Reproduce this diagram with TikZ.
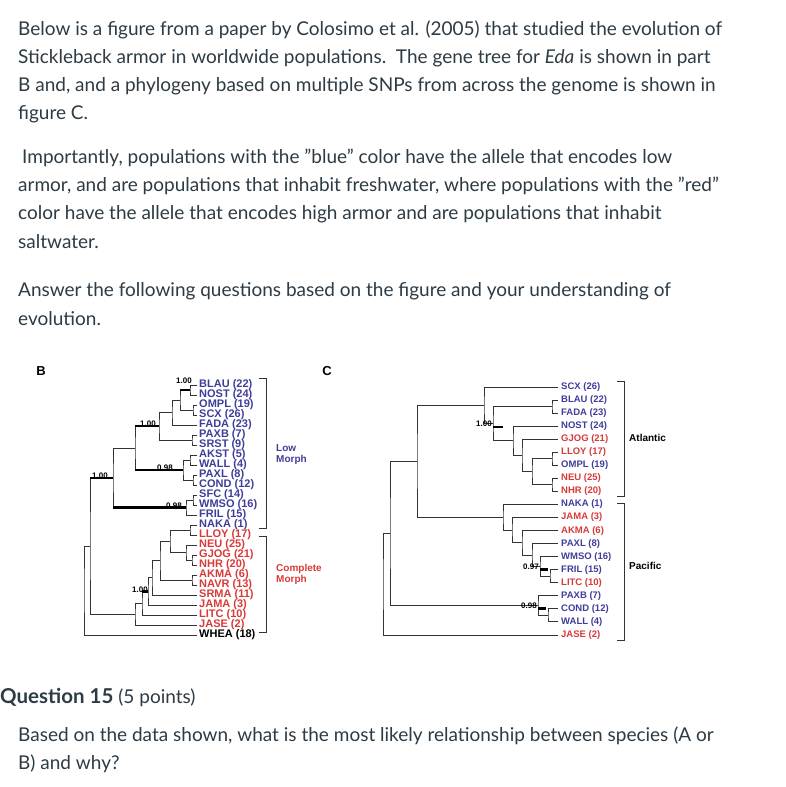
\documentclass[tikz,border=0pt]{standalone}
\usepackage{fontspec}
\setmainfont{Lato}
\newfontfamily\lsans{Liberation Sans}
\usetikzlibrary{calc}
\definecolor{txt}{HTML}{2D3B45}
\definecolor{bl}{HTML}{3E3E9A}
\definecolor{rd}{HTML}{D83A3A}
\newcommand{\jn}[4]{\path let \p1=(#3),\p2=(#4) in coordinate (#1) at ({#2pt},{0.5*\y1+0.5*\y2});
  \draw[tree] (#3) -| (#1) |- (#4);}
\begin{document}
\begin{tikzpicture}[x=1pt,y=-1pt,
  para/.style={anchor=west,inner sep=0pt,font=\fontsize{19}{22}\selectfont,text=txt},
  lf/.style={anchor=west,inner sep=0pt,font=\lsans\bfseries\fontsize{11}{11}\selectfont},
  lfc/.style={anchor=west,inner sep=0pt,font=\lsans\bfseries\fontsize{9.5}{10}\selectfont},
  sup/.style={inner sep=0pt,font=\lsans\bfseries\fontsize{8}{8}\selectfont},
  lab/.style={anchor=west,inner sep=0pt,align=left,font=\lsans\bfseries\fontsize{10}{11}\selectfont},
  tree/.style={line width=0.9pt,black!80},
  bold/.style={line width=2.2pt,black},
  brk/.style={line width=1pt,black!80}]
\useasboundingbox (0,0) rectangle (785,787);
\fill[white] (0,0) rectangle (785,787);
% paragraphs
\node[para] (t1) at (18,30) {Below is a figure from a paper by Colosimo et al. (2005) that studied the evolution of};
\node[para] (t2) at (18,58) {Stickleback armor in worldwide populations.\ \ The gene tree for \emph{Eda} is shown in part};
\node[para] (t3) at (18,86) {B and, and a phylogeny based on multiple SNPs from across the genome is shown in};
\node[para] (t4) at (18,114) {figure C.};
\node[para] (t5) at (22,158) {Importantly, populations with the "blue" color have the allele that encodes low};
\node[para] (t6) at (18,186) {armor, and are populations that inhabit freshwater, where populations with the "red"};
\node[para] (t7) at (18,214) {color have the allele that encodes high armor and are populations that inhabit};
\node[para] (t8) at (18,242) {saltwater.};
\node[para] (t9) at (18,291) {Answer the following questions based on the figure and your understanding of};
\node[para] (t10) at (18,319) {evolution.};
\node[para,font=\bfseries\fontsize{20.5}{24}\selectfont] (q) at (0,697) {Question 15 \normalfont\fontsize{19}{22}\selectfont(5 points)};
\node[para] (t11) at (18,736) {Based on the data shown, what is the most likely relationship between species (A or};
\node[para] (t12) at (18,764) {B) and why?};
\node[inner sep=0pt,font=\lsans\bfseries\fontsize{13}{14}\selectfont] (B) at (41,371) {B};
\node[inner sep=0pt,font=\lsans\bfseries\fontsize{13}{14}\selectfont] (C) at (327,371) {C};
% ---------- tree B leaves
\foreach \n/\c [count=\i] in {BLAU (22)/bl,NOST (24)/bl,OMPL (19)/bl,SCX (26)/bl,FADA (23)/bl,PAXB (7)/bl,SRST (9)/bl,AKST (5)/bl,WALL (4)/bl,PAXL (8)/bl,COND (12)/bl,SFC (14)/bl,WMSO (16)/bl,FRIL (15)/bl,NAKA (1)/bl,LLOY (17)/rd,NEU (25)/rd,GJOG (21)/rd,NHR (20)/rd,AKMA (6)/rd,NAVR (13)/rd,SRMA (11)/rd,JAMA (3)/rd,LITC (10)/rd,JASE (2)/rd,WHEA (18)/black}{
  \coordinate (b\i) at (197,{385+10*(\i-1)});
  \node[lf,text=\c] (bl\i) at (199,{385+10*(\i-1)}) {\n};
}
\jn{bn1}{190}{b1}{b2}
\jn{bn2}{193}{b3}{b4}
\jn{bn3}{180}{bn1}{bn2}
\jn{bn4}{172}{bn3}{b5}
\jn{bn5}{192}{b6}{b7}
\jn{bn6}{159}{bn4}{bn5}
\jn{bn7}{190}{b8}{b9}
\jn{bn8}{193}{b10}{b11}
\jn{bn9}{183}{bn7}{bn8}
\jn{bn10}{135}{bn6}{bn9}
\jn{bn11}{193}{b12}{b13}
\jn{bn12}{186}{bn11}{b14}
\jn{bn13}{113}{bn10}{bn12}
\jn{bn14}{190}{b15}{b16}
\jn{bn16}{192}{b18}{b19}
\jn{bn17}{186}{b17}{bn16}
\jn{bn15}{170}{bn14}{bn17}
\jn{bn19}{192}{b20}{b21}
\jn{bn18}{160}{bn15}{bn19}
\jn{bn20}{152}{bn18}{b22}
\jn{bn21}{148}{bn20}{b23}
\jn{bn22}{142}{bn21}{b24}
\jn{bn23}{135}{bn22}{b25}
\jn{bn24}{90}{bn13}{bn23}
\jn{bn25}{84}{bn24}{b26}
\draw[bold] (bn1) -- (bn1 -| bn3);
\draw[bold] (bn6) -- (bn6 -| bn10);
\draw[bold] (bn9) -- (bn9 -| bn10);
\draw[bold] (bn12) -- (bn12 -| bn13);
\draw[bold] (bn13) -- (bn13 -| bn24);
\draw[bold] (bn21) -- (bn21 -| bn22);
\node[sup,anchor=south east] (s1) at (192,384) {1.00};
\path let \p1=(bn6) in node[sup,anchor=south] (s3) at (148,{\y1-1pt}) {1.00};
\path let \p1=(bn9) in node[sup,anchor=south] (s4) at (165,{\y1-1pt}) {0.98};
\path let \p1=(bn12) in node[sup,anchor=south] (s5) at (174,{\y1-1pt}) {0.98};
\path let \p1=(bn13) in node[sup,anchor=south] (s6) at (100,{\y1-1pt}) {1.00};
\path let \p1=(bn21) in node[sup,anchor=south east] (s7) at (148,{\y1-1pt}) {1.00};
% brackets B
\coordinate (k1) at (266,378); \coordinate (k2) at (266,528);
\draw[brk] ($(k1)+(-7,0)$) -- (k1) -- (k2) -- ($(k2)+(-7,0)$);
\coordinate (k3) at (266,536); \coordinate (k4) at (266,632);
\draw[brk] ($(k3)+(-7,0)$) -- (k3) -- (k4) -- ($(k4)+(-7,0)$);
\node[lab,text=bl] (lm) at (276,455) {Low\\Morph};
\node[lab,text=rd] (cm) at (276,574) {Complete\\Morph};
% ---------- tree C leaves
\foreach \n/\c [count=\i] in {SCX (26)/bl,BLAU (22)/bl,FADA (23)/bl,NOST (24)/bl,GJOG (21)/rd,LLOY (17)/rd,OMPL (19)/bl,NEU (25)/rd,NHR (20)/rd,NAKA (1)/bl,JAMA (3)/rd,AKMA (6)/rd,PAXL (8)/bl,WMSO (16)/bl,FRIL (15)/bl,LITC (10)/rd,PAXB (7)/bl,COND (12)/bl,WALL (4)/bl,JASE (2)/rd}{
  \coordinate (c\i) at (558,{387+13.05*(\i-1)});
  \node[lfc,text=\c] (cl\i) at (561,{387+13.05*(\i-1)}) {\n};
}
\jn{ca}{552}{c2}{c3}
\jn{cb}{552}{c6}{c7}
\jn{cc}{552}{c8}{c9}
\jn{cd}{532}{cb}{cc}
\jn{ce}{522}{c5}{cd}
\jn{cf}{513}{c4}{ce}
\jn{cg}{493}{ca}{cf}
\jn{ch}{484}{c1}{cg}
\jn{ci}{550}{c15}{c16}
\jn{cj}{540}{c14}{ci}
\jn{ck}{532}{c13}{cj}
\jn{cl}{522}{c12}{ck}
\jn{cm}{512}{c11}{cl}
\jn{cn}{503}{c10}{cm}
\jn{co}{417}{ch}{cn}
\jn{cp}{548}{c18}{c19}
\jn{cq}{538}{c17}{cp}
\jn{cr}{390}{co}{cq}
\jn{cs}{383}{cr}{c20}
\draw[bold] ($(cg)+(0,3)$) -- ++(10,0);
\draw[bold] ($(cj)+(0,3)$) -- ++(8,0);
\draw[bold] ($(cq)+(0,3)$) -- ++(8,0);
\path let \p1=(cg) in node[sup,anchor=north east] (s8) at (492,{\y1+3pt}) {1.00};
\path let \p1=(cj) in node[sup,anchor=north east] (s9) at (539,{\y1+3pt}) {0.97};
\path let \p1=(cq) in node[sup,anchor=north east] (s10) at (537,{\y1+3pt}) {0.98};
% brackets C
\coordinate (k5) at (624,381); \coordinate (k6) at (624,496);
\draw[brk] ($(k5)+(-7,0)$) -- (k5) -- (k6) -- ($(k6)+(-7,0)$);
\coordinate (k7) at (624,503); \coordinate (k8) at (624,640);
\draw[brk] ($(k7)+(-7,0)$) -- (k7) -- (k8) -- ($(k8)+(-7,0)$);
\node[lab] (at) at (629,438) {Atlantic};
\node[lab] (pa) at (629,566) {Pacific};
\end{tikzpicture}
\end{document}
